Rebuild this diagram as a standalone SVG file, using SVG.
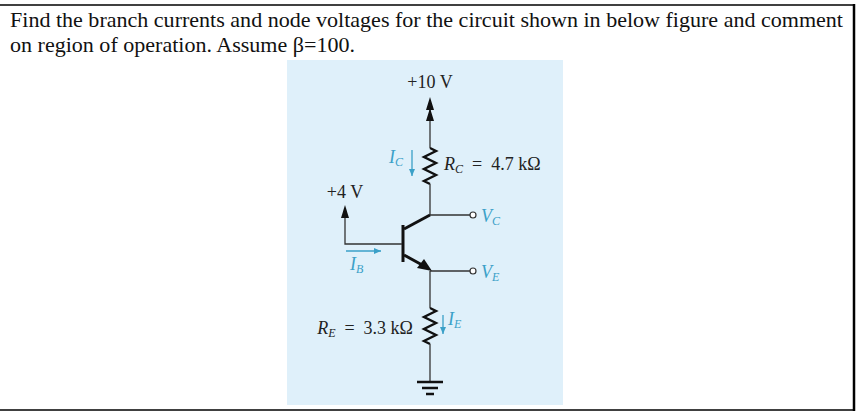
<svg xmlns="http://www.w3.org/2000/svg" width="857" height="413" viewBox="0 0 857 413">
<defs>
<style>
.q{font-family:"Liberation Serif",serif;font-size:21.5px;fill:#111}
.t{font-family:"Liberation Serif",serif;font-size:18px;fill:#222}
.b{font-family:"Liberation Serif",serif;font-size:18px;fill:#3aa0c8;font-style:italic}
.w{stroke:#333;stroke-width:1.3;fill:none}
.k{stroke:#111;stroke-width:3;fill:none}
.z{stroke:#111;stroke-width:2.4;fill:none;stroke-linejoin:miter}
.c{stroke:#3aa0c8;stroke-width:1.3;fill:none}
</style>
<marker id="ba" markerWidth="8" markerHeight="8" refX="7" refY="4" orient="auto" markerUnits="userSpaceOnUse"><path d="M0,1 L7,4 L0,7 z" fill="#3aa0c8"/></marker>
</defs>
<rect width="857" height="413" fill="#fff"/>
<line x1="0" y1="5" x2="855" y2="5" stroke="#000" stroke-width="1.5"/>
<line x1="0" y1="410" x2="855" y2="410" stroke="#000" stroke-width="1.5"/>
<line x1="854" y1="4" x2="854" y2="411" stroke="#000" stroke-width="2.5"/>
<g id="question">
<text class="q" x="10" y="27" textLength="833" lengthAdjust="spacingAndGlyphs">Find the branch currents and node voltages for the circuit shown in below figure and comment</text>
<text class="q" x="10" y="52" textLength="345" lengthAdjust="spacingAndGlyphs">on region of operation. Assume β=100.</text>
</g>
<rect x="287" y="60" width="276" height="345" fill="#dff0fa"/>
<g id="connectors">
<line class="w" x1="430" y1="100" x2="430" y2="148"/>
<path d="M430,97 L426,110 L434,110 z M430,108 L426,121 L434,121 z" fill="#111"/>
<path class="z" d="M430,148 L436,151 L424,157 L436,163 L424,169 L436,175 L424,181 L430,184"/>
<polyline class="w" points="430,184 430,215 470,215"/>
<line class="k" x1="430" y1="215" x2="404" y2="229"/>
<line class="k" x1="403" y1="225" x2="403" y2="262"/>
<polyline class="w" points="402,244 345,244 345,215"/>
<path d="M345,205 L341,218 L349,218 z" fill="#111"/>
<line class="k" x1="404" y1="255" x2="424" y2="266"/>
<path d="M432,271 L417,268 L424,259 z" fill="#111"/>
<polyline class="w" points="430,271 470,271"/>
<line class="w" x1="430" y1="271" x2="430" y2="308"/>
<path class="z" d="M430,308 L436,311 L424,317 L436,323 L424,329 L436,335 L424,341 L430,344"/>
<line class="w" x1="430" y1="344" x2="430" y2="382"/>
<line x1="417" y1="382" x2="443" y2="382" stroke="#111" stroke-width="2.5"/>
<line x1="422" y1="388" x2="438" y2="388" stroke="#111" stroke-width="2.5"/>
<line x1="426" y1="394" x2="434" y2="394" stroke="#111" stroke-width="2.5"/>
<circle cx="473" cy="215" r="3" fill="#fff" stroke="#333" stroke-width="1.2"/>
<circle cx="473" cy="271" r="3" fill="#fff" stroke="#333" stroke-width="1.2"/>
<line class="c" x1="412" y1="150" x2="412" y2="176" marker-end="url(#ba)"/>
<line class="c" x1="346" y1="251" x2="381" y2="251" marker-end="url(#ba)"/>
<line class="c" x1="443" y1="315" x2="443" y2="334" marker-end="url(#ba)"/>
</g>
<g id="labels">
<text class="t" x="430" y="88" text-anchor="middle">+10 V</text>
<text class="t" x="345" y="198" text-anchor="middle">+4 V</text>
<text class="t" x="444" y="170"><tspan font-style="italic">R</tspan><tspan font-size="12" font-style="italic" dy="3">C</tspan><tspan dy="-3" xml:space="preserve">  =  4.7 kΩ</tspan></text>
<text class="t" x="413" y="334" text-anchor="end" xml:space="preserve"><tspan font-style="italic">R</tspan><tspan font-size="12" font-style="italic" dy="3">E</tspan><tspan dy="-3">  =  3.3 kΩ</tspan></text>
<text class="b" x="389" y="163">I<tspan font-size="12" dy="3">C</tspan></text>
<text class="b" x="350" y="270">I<tspan font-size="12" dy="3">B</tspan></text>
<text class="b" x="448" y="325">I<tspan font-size="12" dy="3">E</tspan></text>
<text class="b" x="481" y="222">V<tspan font-size="12" dy="3">C</tspan></text>
<text class="b" x="481" y="278">V<tspan font-size="12" dy="3">E</tspan></text>
</g>
</svg>
